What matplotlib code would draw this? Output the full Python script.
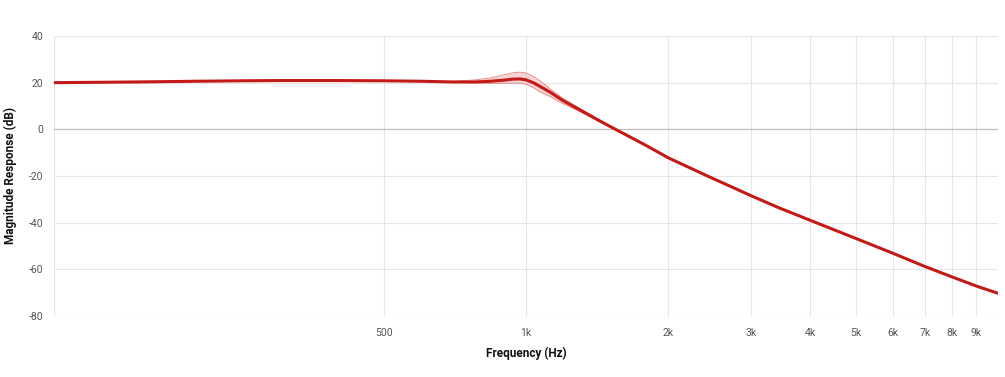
import matplotlib
matplotlib.use("Agg")
import matplotlib.pyplot as plt
from matplotlib.ticker import FixedLocator, FixedFormatter, NullLocator

# ---- data ----
freq_hz = [100, 150, 200, 250, 300, 400, 500, 600, 700, 780, 840, 900, 935,
           970, 1000, 1035, 1070, 1125, 1195, 1300, 1420, 1510, 1665, 1810,
           2000, 2410, 3000, 3430, 4000, 5000, 6000, 7000, 8000, 9000, 10000]
mag_db = [20.0, 20.3, 20.6, 20.8, 20.9, 20.9, 20.8, 20.6, 20.3, 20.3, 20.6,
          21.1, 21.5, 21.6, 21.2, 20.0, 18.4, 15.9, 12.4, 8.3, 4.0, 1.1,
          -3.4, -7.3, -12.2, -19.8, -28.5, -33.6, -39.0, -46.8, -53.2, -58.8,
          -63.3, -67.2, -70.3]

band_freq = [600, 700, 780, 840, 900, 935, 970, 1000, 1035, 1070, 1125,
             1195, 1300, 1420, 1510]
band_upper = [20.6, 20.5, 21.2, 22.0, 23.4, 24.2, 24.5, 24.1, 22.8, 20.8,
              17.3, 13.4, 9.0, 4.5, 1.4]
band_lower = [20.6, 20.2, 19.9, 19.7, 19.7, 19.8, 19.8, 19.3, 17.9, 16.0,
              14.0, 11.1, 7.6, 3.6, 0.9]

x_tick_vals = [500, 1000, 2000, 3000, 4000, 5000, 6000, 7000, 8000, 9000]
x_tick_labels = ["500", "1k", "2k", "3k", "4k", "5k", "6k", "7k", "8k", "9k"]
y_tick_vals = [-80, -60, -40, -20, 0, 20, 40]

plt.rcParams['font.family'] = ['Roboto', 'DejaVu Sans']

fig = plt.figure(figsize=(10.05, 3.77), dpi=100)
ax = fig.add_axes([0.054, 0.162, 0.939, 0.7425])

ax.set_xscale('log')
ax.set_xlim(100, 10000)
ax.set_ylim(-80, 40)

# grid
for xv in [100] + x_tick_vals:
    ax.axvline(xv, color='#e6e6e6', lw=0.8, zorder=0)
for yv in y_tick_vals:
    ax.axhline(yv, color='#bdbdbd' if yv == 0 else '#e6e6e6',
               lw=0.9 if yv == 0 else 0.8, zorder=0)

# band
ax.fill_between(band_freq, band_lower, band_upper, color='#f4b6b6',
                alpha=0.6, lw=0, zorder=1)
ax.plot(band_freq, band_upper, color='#e89090', lw=0.7, zorder=2)
ax.plot(band_freq, band_lower, color='#e89090', lw=0.7, zorder=2)

# main line
ax.plot(freq_hz, mag_db, color='#c41a17', lw=2.2, zorder=3,
        solid_capstyle='round', solid_joinstyle='round')

ax.xaxis.set_major_locator(FixedLocator(x_tick_vals))
ax.xaxis.set_major_formatter(FixedFormatter(x_tick_labels))
ax.xaxis.set_minor_locator(NullLocator())
ax.set_yticks(y_tick_vals)
ax.set_yticklabels([str(v) for v in y_tick_vals])

ax.tick_params(axis='both', length=0, labelsize=7.5, colors='#555555')
ax.tick_params(axis='x', pad=9)
ax.tick_params(axis='y', pad=8)
for s in ax.spines.values():
    s.set_visible(False)

ax.set_xlabel('Frequency (Hz)', fontsize=8.5, fontweight='bold',
              color='#111111', labelpad=6)
ax.set_ylabel('Magnitude Response (dB)', fontsize=8.5, fontweight='bold',
              color='#111111', labelpad=8)

fig.savefig('out.png', dpi=100, facecolor='white')
